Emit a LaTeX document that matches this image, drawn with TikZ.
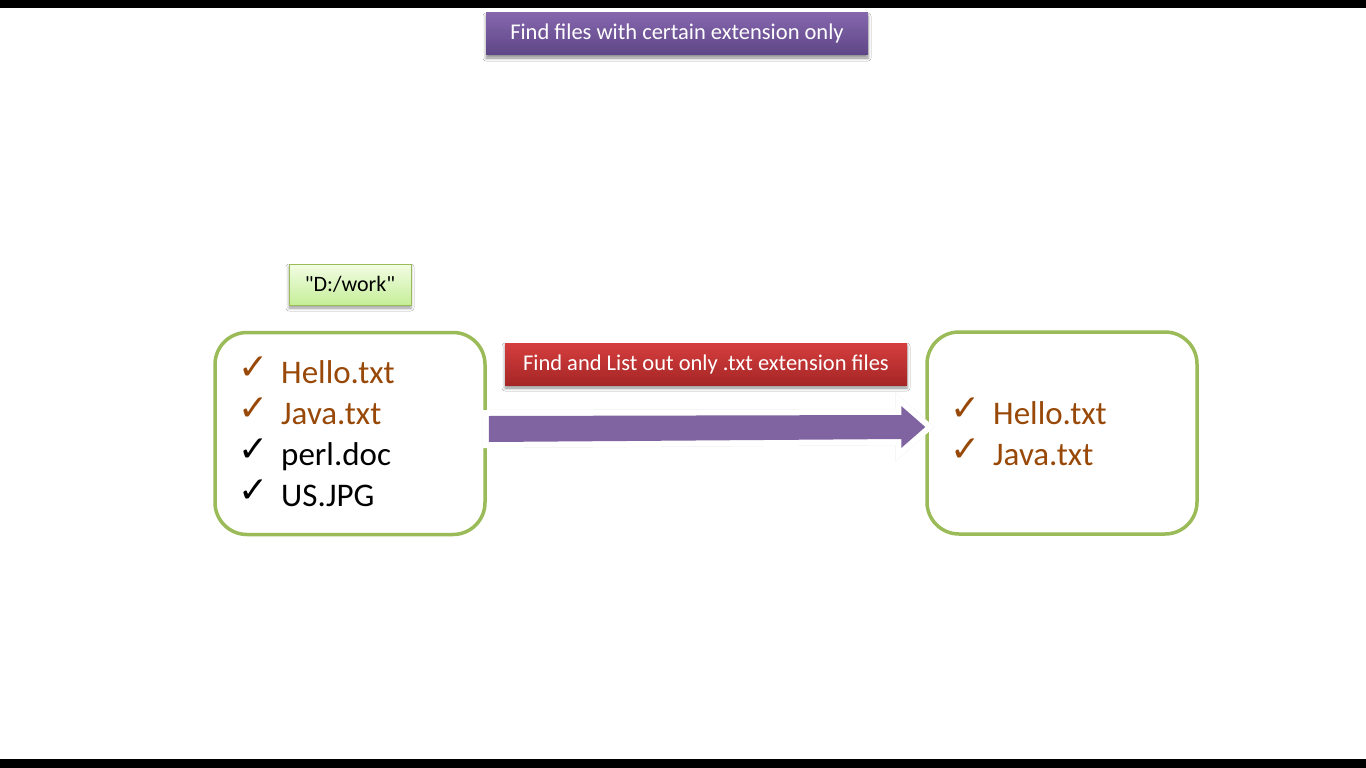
\documentclass[tikz,border=0pt]{standalone}
\usepackage{fontspec}
\setmainfont{Carlito}
\newfontfamily\symfont{DejaVu Sans Bold}
\usetikzlibrary{shadows.blur,calc}
\definecolor{ttop}{HTML}{8566AD}
\definecolor{tbot}{HTML}{5E4686}
\definecolor{rtop}{HTML}{D63E3E}
\definecolor{rbot}{HTML}{A52626}
\definecolor{gtop}{HTML}{F2FDE4}
\definecolor{gbot}{HTML}{C5EE98}
\definecolor{gline}{HTML}{9BBB59}
\definecolor{brown}{HTML}{984807}
\definecolor{arrowpurple}{HTML}{8064A2}
\tikzset{
  banner/.style={rectangle, inner sep=0pt, text=white,
    font=\fontsize{22.5}{26}\selectfont,
    blur shadow={shadow xshift=0pt, shadow yshift=-3pt, shadow blur radius=3pt, shadow opacity=45}},
  titlebox/.style={banner, top color=ttop, bottom color=tbot},
  redbox/.style={banner, top color=rtop, bottom color=rbot},
  pathbox/.style={rectangle, inner sep=0pt, draw=gline, line width=0.8pt,
    top color=gtop, bottom color=gbot, font=\fontsize{22}{26}\selectfont,
    blur shadow={shadow xshift=0pt, shadow yshift=-3pt, shadow blur radius=3pt, shadow opacity=40}},
  listbox/.style={rectangle, rounded corners=32pt, draw=gline, line width=3.5pt,
    fill=white, minimum width=270pt, minimum height=202pt},
  item/.style={anchor=base west, inner sep=0pt, font=\fontsize{33}{40}\selectfont},
  chk/.style={anchor=base west, inner sep=0pt, font=\symfont\fontsize{36}{40}\selectfont},
  arrowshadow/.style={draw=black!35, fill=black!35, line width=12pt, line join=miter,
    opacity=0.45, shift={(2pt,-6pt)}},
  arrowedge/.style={draw=white, line width=12pt, line join=miter, fill=white},
  arrowbody/.style={fill=arrowpurple},
}
\begin{document}
\begin{tikzpicture}[x=1pt,y=-1pt]
\useasboundingbox (0,0) rectangle (1366,768);
\fill[white] (0,0) rectangle (1366,768);
\fill[black] (0,0) rectangle (1366,8);
\fill[black] (0,759) rectangle (1366,768);

\node[titlebox, minimum width=382pt, minimum height=42pt] (title) at (677,34) {Find files with certain extension only};

\node[pathbox, minimum width=122pt, minimum height=41pt] (dir) at (350,284.5) {\textquotedbl D:/work\textquotedbl};

\node[listbox] (src) at (350,433.5) {};
\node[listbox] (dst) at (1062,433) {};

\node[chk, text=brown] (c1) at (238,379) {✓};
\node[item, text=brown] (l1) at (281,383) {Hello.txt};
\node[chk, text=brown] (c2) at (238,420) {✓};
\node[item, text=brown] (l2) at (281,424) {Java.txt};
\node[chk, text=black] (c3) at (238,461) {✓};
\node[item, text=black] (l3) at (281,465) {perl.doc};
\node[chk, text=black] (c4) at (238,502) {✓};
\node[item, text=black] (l4) at (281,506) {US.JPG};

\node[chk, text=brown] (r1c) at (950,420) {✓};
\node[item, text=brown] (r1) at (993,424) {Hello.txt};
\node[chk, text=brown] (r2c) at (950,461) {✓};
\node[item, text=brown] (r2) at (993,465) {Java.txt};

\node[redbox, minimum width=402pt, minimum height=42pt] (op) at (706,364) {Find and List out only .txt extension files};

\coordinate (as) at ($(src.east)+(2,-5)$);
\coordinate (ae) at ($(dst.west)+(0,-6)$);
\foreach \s in {arrowshadow,arrowedge,arrowbody}
  \path[\s] ($(as)+(0,-12.5)$) -- ($(ae)+(-24,-12)$) -- ($(ae)+(-24,-21)$) -- (ae)
    -- ($(ae)+(-24,21)$) -- ($(ae)+(-24,12)$) -- ($(as)+(0,13.5)$) -- cycle;
\end{tikzpicture}
\end{document}
